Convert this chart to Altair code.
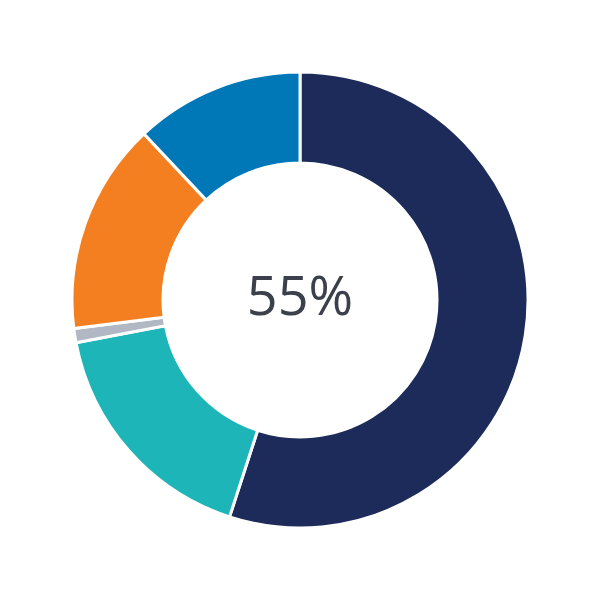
import altair as alt
import pandas as pd

categories = ["A", "B", "C", "D", "E"]
values = [55, 17, 1, 15, 12]
colors = ["#1c2b5a", "#1db5b8", "#b2b8c3", "#f47f20", "#0077b6"]
order = [0, 1, 2, 3, 4]
center_label = "55%"

df = pd.DataFrame({"category": categories, "value": values, "order": order})

arcs = alt.Chart(df).mark_arc(radius=228, radius2=137, stroke="white", strokeWidth=3).encode(
    theta=alt.Theta("value:Q", stack=True),
    color=alt.Color("category:N", scale=alt.Scale(domain=categories, range=colors), legend=None),
    order=alt.Order("order:Q"),
)

text = alt.Chart(pd.DataFrame({"t": [center_label]})).mark_text(
    font="Open Sans", fontSize=54, color="#3b404b", baseline="middle", align="center", dy=-1
).encode(text="t:N")

chart = alt.layer(arcs, text).properties(
    width=584, height=584,
    autosize=alt.AutoSizeParams(type="fit", contains="padding"),
    padding=0,
).configure_view(stroke=None)

chart.save("out.html", embed_options={"renderer": "svg", "actions": False})
